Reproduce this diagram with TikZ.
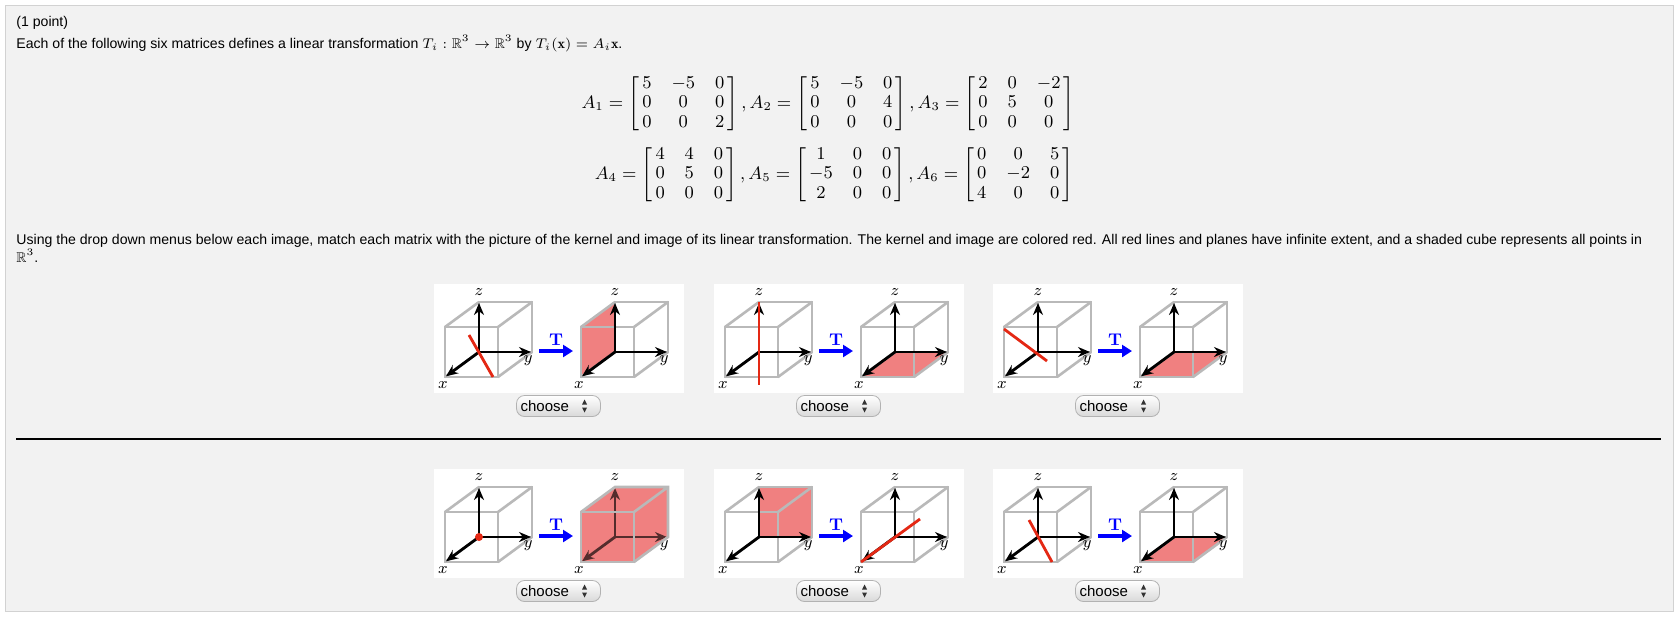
\documentclass[tikz,border=0pt]{standalone}
\usepackage{amsmath,amssymb}
\usepackage{fontspec}
\newfontfamily\sansf{Liberation Sans}
\usetikzlibrary{arrows.meta,calc}
\definecolor{bgc}{RGB}{242,242,242}
\definecolor{redl}{RGB}{228,40,20}
\definecolor{redf}{RGB}{240,128,128}
\definecolor{edgec}{RGB}{185,185,185}
\tikzset{
  cubeedge/.style={draw=edgec,line width=1.3},
  axis/.style={-{Stealth[length=6,width=5]},line width=1.4,black},
  redline/.style={redl,line width=1.4},
  redfill/.style={fill=redf},
  axlab/.style={font=\fontsize{8}{8}\selectfont\itshape},
  panel/.style={fill=white,draw=none},
  btn/.style={draw=gray!60,rounded corners=4,top color=white,bottom color=gray!30,minimum width=42,minimum height=10.5,inner sep=0,font=\sansf\fontsize{7.5}{8}\selectfont},
  txt/.style={anchor=base west,inner sep=0,font=\sansf\fontsize{7.05}{8.5}\selectfont},
  mat/.style={inner sep=0,font=\fontsize{9}{11}\selectfont},
}
\newcommand\cubeedges{%
  \draw[cubeedge] (-34,25) -- (19,25) -- (19,-25) -- (-34,-25) -- cycle;
  \draw[cubeedge] (0,0) -- (53,0) -- (53,-50) -- (0,-50) -- cycle;
  \draw[cubeedge] (-34,25) -- (0,0) (19,25) -- (53,0) (19,-25) -- (53,-50) (-34,-25) -- (0,-50);}
\newcommand\cubeaxes[1][black]{%
  \draw[axis,#1] (0,0) -- (-33,24.3);
  \draw[axis,#1] (0,0) -- (52,0);
  \draw[axis,#1] (0,0) -- (0,-49);
  \node[axlab] at (0,-60) {$z$};
  \node[axlab] at (49,9) {$y$};
  \node[axlab] at (-36,33) {$x$};}
\newcommand\Tarrow{%
  \draw[-{Triangle[length=5,width=6]},blue,line width=2] (60,-1) -- (94,-1);
  \node[blue,font=\fontsize{8.5}{8}\selectfont\bfseries] at (77,-12) {T};}
\newcommand\panelbox[2]{%
  \fill[panel] (#1,#2) rectangle ++(250,109);
  \node[btn] at ($(#1,#2)+(124.5,122)$) {\hspace{2pt}choose\hspace{12pt}\phantom{x}};
}
\newcommand\mtx[1]{\left[\,\begin{matrix}#1\end{matrix}\,\right]}
\begin{document}
\begin{tikzpicture}[x=0.5pt,y=-0.5pt]
\useasboundingbox (0,0) rectangle (1680,618);
\fill[white] (0,0) rectangle (1680,618);
\draw[fill=bgc,draw=gray!35] (5,5) rectangle (1673,611);
\node[txt] (pt) at (16,26) {(1 point)};
\node[txt] (intro) at (16,48) {Each of the following six matrices defines a linear transformation $T_i:\mathbb{R}^3\rightarrow\mathbb{R}^3$ by $T_i(\mathbf{x})=A_i\mathbf{x}$.};
\node[mat] (row1) at (828,104) {\setlength\arraycolsep{5pt}\renewcommand\arraystretch{0.88}$A_1=\mtx{5&-5&0\\0&0&0\\0&0&2},A_2=\mtx{5&-5&0\\0&0&4\\0&0&0},A_3=\mtx{2&0&-2\\0&5&0\\0&0&0}$};
\node[mat] (row2) at (834,175) {\setlength\arraycolsep{5pt}\renewcommand\arraystretch{0.88}$A_4=\mtx{4&4&0\\0&5&0\\0&0&0},A_5=\mtx{1&0&0\\-5&0&0\\2&0&0},A_6=\mtx{0&0&5\\0&-2&0\\4&0&0}$};
\node[txt] (using) at (16,244) {Using the drop down menus below each image, match each matrix with the picture of the kernel and image of its linear transformation. The kernel and image are colored red. All red lines and planes have infinite extent, and a shaded cube represents all points in};
\node[txt] (r3) at (16,262) {$\mathbb{R}^3$.};
\draw[black,line width=0.8] (16,439) -- (1661,439);
\foreach \bx/\by in {434/284,714/284,993/284,434/469,714/469,993/469}{\panelbox{\bx}{\by}}
% ---------- panel 1
\begin{scope}[shift={(479,352)}]
 \cubeedges \cubeaxes
 \draw[redline] (-10,-17) -- (14,25);
 \Tarrow
 \begin{scope}[shift={(136,0)}]
  \fill[redfill] (0,0) -- (-34,25) -- (-34,-25) -- (0,-50) -- cycle;
  \cubeedges \cubeaxes
 \end{scope}
\end{scope}
% ---------- panel 2
\begin{scope}[shift={(759,352)}]
 \cubeedges \cubeaxes
 \draw[redline] (0,-50) -- (0,33);
 \Tarrow
 \begin{scope}[shift={(136,0)}]
  \fill[redfill] (0,0) -- (-34,25) -- (19,25) -- (53,0) -- cycle;
  \cubeedges \cubeaxes
 \end{scope}
\end{scope}
% ---------- panel 3
\begin{scope}[shift={(1038,352)}]
 \cubeedges \cubeaxes
 \draw[redline] (-34,-23) -- (9,9);
 \Tarrow
 \begin{scope}[shift={(136,0)}]
  \fill[redfill] (0,0) -- (-34,25) -- (19,25) -- (53,0) -- cycle;
  \cubeedges \cubeaxes
 \end{scope}
\end{scope}
% ---------- panel 4
\begin{scope}[shift={(479,537)}]
 \cubeedges \cubeaxes
 \fill[redl] (0,0) circle (4);
 \Tarrow
 \begin{scope}[shift={(136,0)}]
  \fill[redf] (-34,25) -- (19,25) -- (53,0) -- (53,-50) -- (0,-50) -- (-34,-25) -- cycle;
  \cubeaxes[redf!35!black]
  \draw[cubeedge] (-34,25) -- (19,25) -- (19,-25) -- (-34,-25) -- cycle;
  \draw[cubeedge] (19,25) -- (53,0) -- (53,-50) -- (0,-50) -- (-34,-25) (19,-25) -- (53,-50);
 \end{scope}
\end{scope}
% ---------- panel 5
\begin{scope}[shift={(759,537)}]
 \fill[redfill] (0,0) -- (53,0) -- (53,-50) -- (0,-50) -- cycle;
 \cubeedges \cubeaxes
 \Tarrow
 \begin{scope}[shift={(136,0)}]
  \cubeedges \cubeaxes
  \draw[redline] (-34,25) -- (25,-18);
 \end{scope}
\end{scope}
% ---------- panel 6
\begin{scope}[shift={(1038,537)}]
 \cubeedges \cubeaxes
 \draw[redline] (-9,-17) -- (14,25);
 \Tarrow
 \begin{scope}[shift={(136,0)}]
  \fill[redfill] (0,0) -- (-34,25) -- (19,25) -- (53,0) -- cycle;
  \cubeedges \cubeaxes
 \end{scope}
\end{scope}
\foreach \bx/\by in {434/284,714/284,993/284,434/469,714/469,993/469}{
  \fill[gray!40!black] (\bx+153,\by+120.5) -- ++(-5,0) -- ++(2.5,-5) -- cycle;
  \fill[gray!40!black] (\bx+153,\by+123.5) -- ++(-5,0) -- ++(2.5,5) -- cycle;
}
\end{tikzpicture}
\end{document}
